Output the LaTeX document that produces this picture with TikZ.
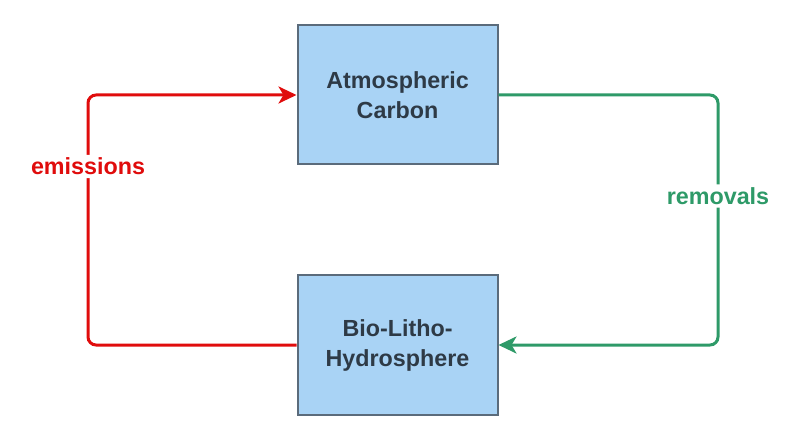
\documentclass[tikz,border=0pt]{standalone}
\usepackage{fontspec}
\setmainfont{Liberation Sans}
\usepackage{xcolor}
\usetikzlibrary{arrows.meta}

\definecolor{boxfill}{HTML}{A9D3F5}
\definecolor{boxline}{HTML}{5B6B7B}
\definecolor{boxtext}{HTML}{2E3A46}
\definecolor{emitred}{HTML}{E00C0C}
\definecolor{removegreen}{HTML}{2E9A68}

\begin{document}
\begin{tikzpicture}[x=1pt, y=-1pt,
    pool/.style={draw=boxline, line width=2pt, fill=boxfill, minimum width=200pt, minimum height=139pt,
                 align=center, text=boxtext, font=\fontsize{23.3}{30}\selectfont\bfseries},
    flow/.style={line width=3pt, rounded corners=8pt, -{Stealth[length=18pt, width=17pt, inset=5pt]}},
    flowlabel/.style={fill=white, inner sep=3pt, font=\fontsize{23.3}{26}\selectfont\bfseries}]
            \useasboundingbox (0,0) rectangle (800,438);
            \node [pool] (atm) at (397.5,95) {Atmospheric\\Carbon};
            \node [pool] (bio) at (397.5,345) {Bio-Litho-\\Hydrosphere};
            \coordinate (emitcorner) at (88,95);
            \coordinate (removecorner) at (718,345);
            \draw [flow, emitred] (bio.west) -| node [flowlabel, text=emitred, pos=0.857]{emissions} (emitcorner) -- (atm.west);
            \draw [flow, removegreen] (atm.east) -| node [flowlabel, text=removegreen, pos=0.702]{removals} (removecorner) -- (bio.east);
        \end{tikzpicture}
\end{document}
